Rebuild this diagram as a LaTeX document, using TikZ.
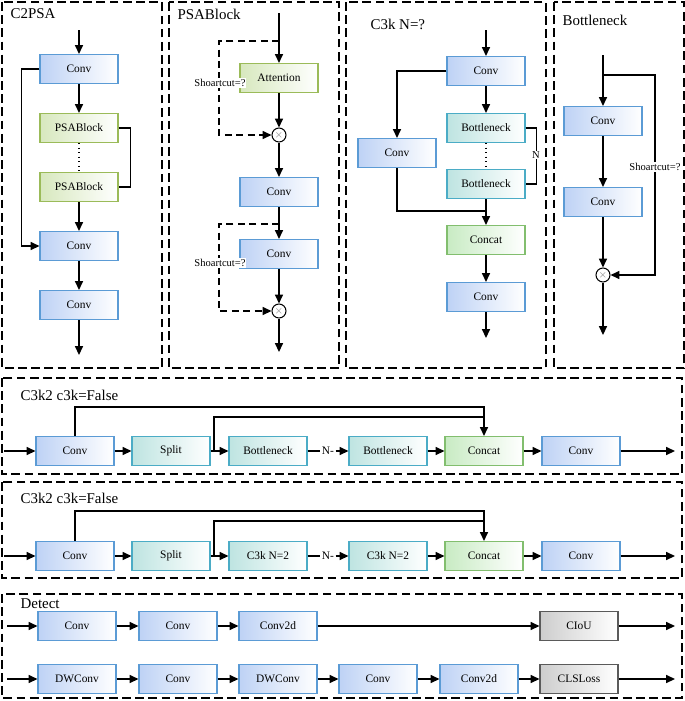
\documentclass[tikz,border=0pt]{standalone}
\usepackage{fontspec}
\setmainfont{Liberation Serif}
\usetikzlibrary{arrows.meta}
\begin{document}
\begin{tikzpicture}[x=0.02cm,y=-0.02cm,
  line width=0.85pt,
  arr/.style={-{Triangle[length=5pt,width=4.5pt]}},
  frame/.style={draw, line width=0.9pt, dash pattern=on 5pt off 2.5pt},
  box/.style={draw, line width=0.6pt, minimum width=1.56cm, minimum height=0.58cm, inner sep=0pt, font=\fontsize{6.5}{7}\selectfont},
  blue/.style={box, draw={rgb,255:red,91;green,155;blue,213}, left color={rgb,255:red,190;green,210;blue,245}, right color=white},
  green/.style={box, draw={rgb,255:red,155;green,187;blue,89}, left color={rgb,255:red,215;green,232;blue,190}, right color=white},
  teal/.style={box, draw={rgb,255:red,75;green,172;blue,198}, left color={rgb,255:red,190;green,228;blue,225}, right color=white},
  cgreen/.style={box, draw={rgb,255:red,130;green,190;blue,110}, left color={rgb,255:red,200;green,235;blue,195}, right color=white},
  gray/.style={box, draw={rgb,255:red,90;green,90;blue,90}, left color={rgb,255:red,205;green,205;blue,205}, right color=white},
  mul/.style={draw, circle, line width=0.6pt, minimum size=0.28cm, inner sep=0pt, font=\fontsize{4}{4}\selectfont, text=gray},
  ttl/.style={anchor=west, font=\fontsize{8.5}{9}\selectfont},
  lbl/.style={fill=white, inner sep=0.5pt, font=\fontsize{6}{6.5}\selectfont},
  darr/.style={arr, dash pattern=on 4pt off 2.5pt}
]
\useasboundingbox (0,0) rectangle (685,701);
% frames
\draw[frame] (2,2) rectangle (162,368);
\draw[frame] (169,2) rectangle (339,368);
\draw[frame] (346,2) rectangle (546,368);
\draw[frame] (554,2) rectangle (684,368);
\draw[frame] (2,378) rectangle (682,474);
\draw[frame] (2,482) rectangle (682,578);
\draw[frame] (2,594) rectangle (682,698);
\node[ttl] (t1) at (4,14) {C2PSA};
\node[ttl] (t2) at (171,14) {PSABlock};
\node[ttl] (t3) at (364,24) {C3k N=?};
\node[ttl] (t4) at (556,20) {Bottleneck};
\node[ttl] (t5) at (14,395) {C3k2 c3k=False};
\node[ttl] (t6) at (14,498) {C3k2 c3k=False};
\node[ttl] (t7) at (14,604) {Detect};

% C2PSA
\node[blue] (a1) at (79,69) {Conv};
\node[green] (a2) at (79,128) {PSABlock};
\node[green] (a3) at (79,187) {PSABlock};
\node[blue] (a4) at (79,246) {Conv};
\node[blue] (a5) at (79,305) {Conv};
\coordinate (ain) at (79,30);
\coordinate (aout) at (79,355);
\draw[arr] (ain) -- (a1);
\draw[arr] (a1) -- (a2);
\draw[dotted,line width=0.6pt] (a2) -- (a3);
\draw (a2.east) -- ++(12,0) |- (a3.east);
\draw[arr] (a3) -- (a4);
\draw[arr] (a4) -- (a5);
\draw[arr] (a5) -- (aout);
\draw[arr] (a1.west) -- ++(-18,0) |- (a4.west);

% PSABlock
\node[green] (b1) at (279,78) {Attention};
\node[mul] (b2) at (279,135) {$\times$};
\node[blue] (b3) at (279,192) {Conv};
\node[blue] (b4) at (279,254) {Conv};
\node[mul] (b5) at (279,311) {$\times$};
\coordinate (bin) at (279,13);
\coordinate (bs1) at (279,41);
\coordinate (bs2) at (279,224);
\coordinate (bout) at (279,352);
\draw[arr] (bin) -- (b1);
\draw[arr] (b1) -- (b2);
\draw[arr] (b2) -- (b3);
\draw[arr] (b3) -- (b4);
\draw[arr] (b4) -- (b5);
\draw[arr] (b5) -- (bout);
\draw[darr] (bs1) -- ++(-60,0) |- (b2.west);
\draw[darr] (bs2) -- ++(-60,0) |- (b5.west);
\node[lbl] (bl1) at (220,83) {Shoartcut=?};
\node[lbl] (bl2) at (220,263) {Shoartcut=?};

% C3k
\node[blue] (c1) at (486,71) {Conv};
\node[teal] (c2) at (486,128) {Bottleneck};
\node[teal] (c3) at (486,184) {Bottleneck};
\node[blue] (c4) at (397,153) {Conv};
\node[cgreen] (c5) at (486,240) {Concat};
\node[blue] (c6) at (486,297) {Conv};
\coordinate (cin) at (486,30);
\coordinate (cout) at (486,338);
\coordinate (cj) at (486,211);
\draw[arr] (cin) -- (c1);
\draw[arr] (c1) -- (c2);
\draw[dotted,line width=0.6pt] (c2) -- (c3);
\draw (c2.east) -- ++(11,0) |- (c3.east);
\node[lbl] (cn) at (536,155) {N};
\draw[arr] (c1.west) -| (c4.north);
\draw (c4.south) |- (cj);
\draw[arr] (c3) -- (c5);
\draw[arr] (c5) -- (c6);
\draw[arr] (c6) -- (cout);

% Bottleneck
\node[blue] (d1) at (603,121) {Conv};
\node[blue] (d2) at (603,202) {Conv};
\node[mul] (d3) at (603,275) {$\times$};
\coordinate (din) at (603,55);
\coordinate (ds) at (603,75);
\coordinate (dout) at (603,335);
\draw[arr] (din) -- (d1);
\draw[arr] (d1) -- (d2);
\draw[arr] (d2) -- (d3);
\draw[arr] (d3) -- (dout);
\draw[arr] (ds) -- ++(52,0) |- (d3.east);
\node[lbl] (dl) at (655,167) {Shoartcut=?};

% Rows C3k2
\foreach \r/\y/\top/\mid/\lab in {e/451/407/417/Bottleneck, f/556/511/521/C3k N=2}{
  \node[blue] (\r1) at (75,\y) {Conv};
  \node[teal] (\r2) at (171,\y) {Split};
  \node[teal] (\r3) at (268,\y) {\lab};
  \node[teal] (\r4) at (388,\y) {\lab};
  \node[cgreen] (\r5) at (484,\y) {Concat};
  \node[blue] (\r6) at (581,\y) {Conv};
  \node[font=\fontsize{6.5}{7}\selectfont, inner sep=0.5pt] (\r n) at (328,\y) {N-};
  \coordinate (\r in) at (4,\y);
  \coordinate (\r out) at (675,\y);
  \coordinate (\r s) at (214,\y);
  \draw[arr] (\r in) -- (\r1);
  \draw[arr] (\r1) -- (\r2);
  \draw[arr] (\r2) -- (\r3);
  \draw (\r3) -- (\r n);
  \draw[arr] (\r n) -- (\r4);
  \draw[arr] (\r4) -- (\r5);
  \draw[arr] (\r5) -- (\r6);
  \draw[arr] (\r6) -- (\r out);
  \draw[arr] (\r1.north) |- (484,\top) -- (\r5.north);
  \draw (\r s) |- (484,\mid);
}

% Detect
\node[blue] (g1) at (77,626) {Conv};
\node[blue] (g2) at (178,626) {Conv};
\node[blue] (g3) at (278,626) {Conv2d};
\node[gray] (g4) at (579,626) {CIoU};
\coordinate (gin) at (7,626);
\coordinate (gout) at (675,626);
\draw[arr] (gin) -- (g1);
\draw[arr] (g1) -- (g2);
\draw[arr] (g2) -- (g3);
\draw[arr] (g3) -- (g4);
\draw[arr] (g4) -- (gout);
\node[blue] (h1) at (77,679) {DWConv};
\node[blue] (h2) at (178,679) {Conv};
\node[blue] (h3) at (278,679) {DWConv};
\node[blue] (h4) at (378,679) {Conv};
\node[blue] (h5) at (479,679) {Conv2d};
\node[gray] (h6) at (579,679) {CLSLoss};
\coordinate (hin) at (7,679);
\coordinate (hout) at (675,679);
\draw[arr] (hin) -- (h1);
\draw[arr] (h1) -- (h2);
\draw[arr] (h2) -- (h3);
\draw[arr] (h3) -- (h4);
\draw[arr] (h4) -- (h5);
\draw[arr] (h5) -- (h6);
\draw[arr] (h6) -- (hout);
\end{tikzpicture}
\end{document}
